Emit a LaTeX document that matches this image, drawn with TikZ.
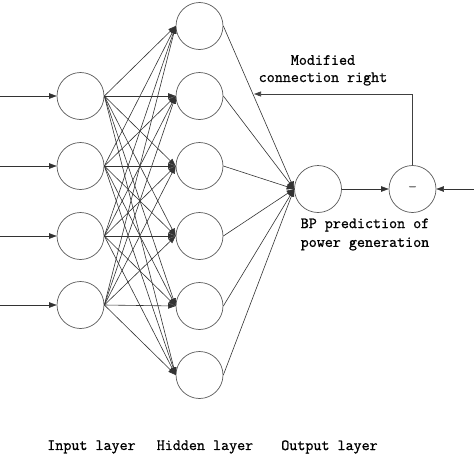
\documentclass[tikz,border=0pt]{standalone}
\usepackage{fontspec}
\newfontfamily\lbfont{lmmono12-regular.otf}[FakeBold=1.0]
\usetikzlibrary{arrows.meta}
\begin{document}
\begin{tikzpicture}[x=1pt,y=-1pt,
  neuron/.style={circle,draw=black!65,line width=0.7pt,minimum size=47pt,inner sep=0pt},
  conn/.style={draw=black!80,line width=0.6pt,-{Triangle[length=7.5pt,width=5.5pt]}},
  plain/.style={draw=black!75,line width=0.6pt},
  lbl/.style={font=\lbfont\fontsize{15.6}{19}\selectfont,inner sep=0pt,align=center}]
\useasboundingbox (0,0) rectangle (474,474);
% input layer
\foreach \i/\y in {1/96,2/166,3/236,4/305} {
  \node[neuron] (i\i) at (80.5,\y) {};
  \coordinate (s\i) at (0,\y);
  \draw[conn] (s\i) -- (i\i.west);
}
% hidden layer
\foreach \j/\y in {1/26,2/96,3/166,4/236,5/306,6/375} {
  \node[neuron] (h\j) at (199.5,\y) {};
}
% output and comparator
\node[neuron] (o) at (318,189) {};
\node[neuron] (m) at (412.5,189) {\lbfont\fontsize{17}{17}\selectfont\textcolor{black!50}{-}};
\coordinate (r) at (474,189);
% connections
\foreach \i in {1,...,4} {
  \foreach \j in {1,...,6} {
    \draw[conn] (i\i.east) -- (h\j.west);
  }
}
\foreach \j in {1,...,6} {
  \draw[conn] (h\j.east) -- (o.west);
}
\draw[conn] (o.east) -- (m.west);
\draw[conn] (r) -- (m.east);
\coordinate (fb) at (254,94);
\draw[plain,-{Triangle[length=7pt,width=5pt]}] (m.north) |- (fb);
% labels
\node[lbl] (t1) at (323,60) {Modified};
\node[lbl] (t2) at (323,79) {connection right};
\node[lbl] (t3) at (365,225) {BP prediction of};
\node[lbl] (t4) at (365,244) {power generation};
\node[lbl] (l1) at (91.5,447) {Input layer};
\node[lbl] (l2) at (205,447) {Hidden layer};
\node[lbl] (l3) at (329.5,447) {Output layer};
\end{tikzpicture}
\end{document}
